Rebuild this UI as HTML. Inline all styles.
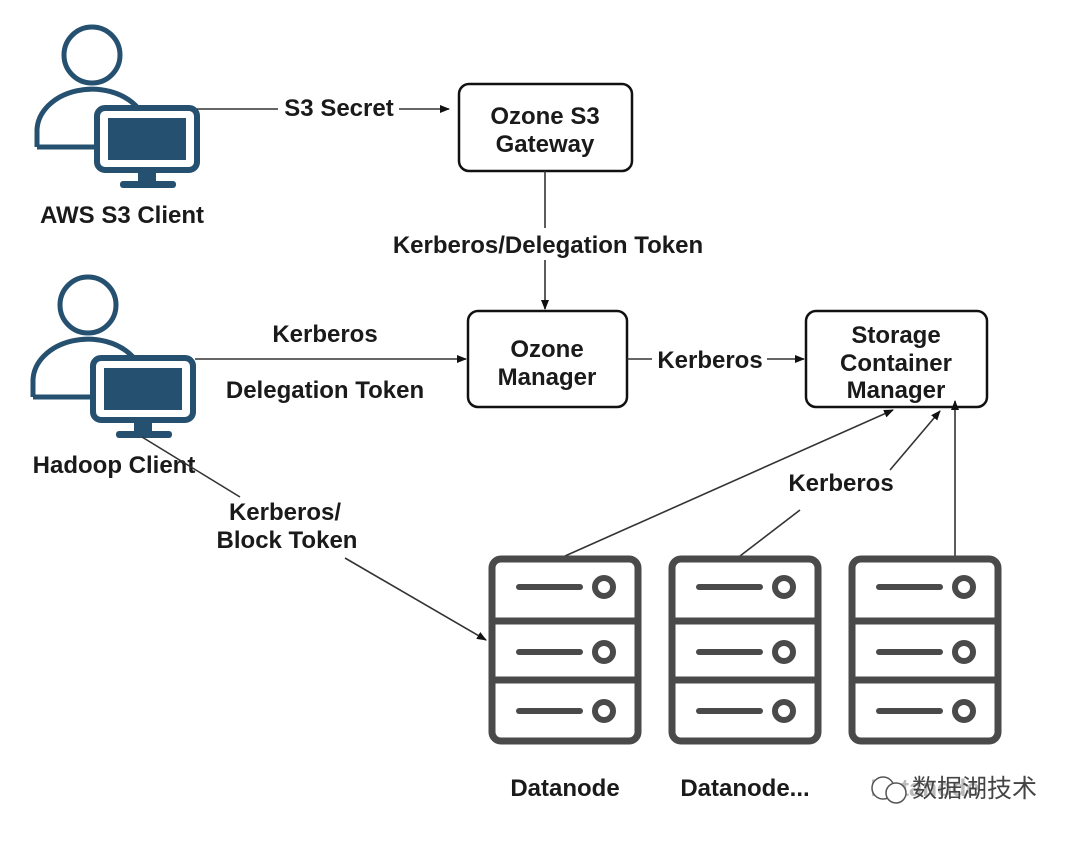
<!DOCTYPE html>
<html><head><meta charset="utf-8"><style>
body{margin:0;background:#fff;width:1079px;height:836px;overflow:hidden}
svg text{font-family:"Liberation Sans","Noto Sans CJK SC",sans-serif;font-weight:bold;fill:#1a1a1a;font-size:24px}
</style></head><body>
<svg width="1079" height="836" viewBox="0 0 1079 836" xmlns="http://www.w3.org/2000/svg">
<defs>
<marker id="a" markerWidth="10" markerHeight="10" refX="9" refY="5" orient="auto" markerUnits="userSpaceOnUse"><path d="M0,1 L10,5 L0,9 z" fill="#111"/></marker>
<g id="person">
<circle cx="0" cy="0" r="28" fill="none" stroke="#25506f" stroke-width="5"/>
<path d="M-55,92 L-55,75 A55,42 0 0 1 45,52" fill="none" stroke="#25506f" stroke-width="5"/>
<path d="M-55,92 L5,92" stroke="#25506f" stroke-width="5"/>
<rect x="5" y="53" width="100" height="62" rx="8" fill="#fff" stroke="#25506f" stroke-width="6"/>
<rect x="16" y="63" width="78" height="42" fill="#25506f"/>
<rect x="46" y="115" width="18" height="14" fill="#25506f"/>
<rect x="28" y="126" width="56" height="7" rx="3" fill="#25506f"/>
</g>
<g id="srv">
<rect x="0" y="0" width="146" height="182" rx="9" fill="#fff" stroke="#4a4a4a" stroke-width="7"/>
<line x1="0" y1="62" x2="146" y2="62" stroke="#4a4a4a" stroke-width="7"/>
<line x1="0" y1="121" x2="146" y2="121" stroke="#4a4a4a" stroke-width="7"/>
<g stroke="#4a4a4a" stroke-width="6" stroke-linecap="round" fill="none">
<line x1="27" y1="28" x2="88" y2="28"/><circle cx="112" cy="28" r="9"/>
<line x1="27" y1="93" x2="88" y2="93"/><circle cx="112" cy="93" r="9"/>
<line x1="27" y1="152" x2="88" y2="152"/><circle cx="112" cy="152" r="9"/>
</g>
</g>
</defs>

<use href="#person" x="92" y="55"/>
<use href="#person" x="88" y="305"/>
<text x="122" y="223" text-anchor="middle">AWS S3 Client</text>
<text x="114" y="473" text-anchor="middle">Hadoop Client</text>

<rect x="459" y="84" width="173" height="87" rx="10" fill="#fff" stroke="#111" stroke-width="2.5"/>
<text x="545" y="124" text-anchor="middle">Ozone S3</text>
<text x="545" y="152" text-anchor="middle">Gateway</text>
<rect x="468" y="311" width="159" height="96" rx="10" fill="#fff" stroke="#111" stroke-width="2.5"/>
<text x="547" y="357" text-anchor="middle">Ozone</text>
<text x="547" y="385" text-anchor="middle">Manager</text>
<rect x="806" y="311" width="181" height="96" rx="10" fill="#fff" stroke="#111" stroke-width="2.5"/>
<text x="896" y="343" text-anchor="middle">Storage</text>
<text x="896" y="371" text-anchor="middle">Container</text>
<text x="896" y="398" text-anchor="middle">Manager</text>

<g stroke="#333" stroke-width="1.6" fill="none">
<line x1="197" y1="109" x2="278" y2="109"/>
<line x1="399" y1="109" x2="449" y2="109" marker-end="url(#a)"/>
<line x1="545" y1="171" x2="545" y2="228"/>
<line x1="545" y1="260" x2="545" y2="309" marker-end="url(#a)"/>
<line x1="195" y1="359" x2="466" y2="359" marker-end="url(#a)"/>
<line x1="627" y1="359" x2="652" y2="359"/>
<line x1="767" y1="359" x2="804" y2="359" marker-end="url(#a)"/>
<line x1="142" y1="437" x2="240" y2="497"/>
<line x1="345" y1="558" x2="486" y2="640" marker-end="url(#a)"/>
<line x1="565" y1="556" x2="893" y2="410" marker-end="url(#a)"/>
<line x1="740" y1="556" x2="800" y2="510"/>
<line x1="890" y1="470" x2="940" y2="411" marker-end="url(#a)"/>
<line x1="955" y1="556" x2="955" y2="401" marker-end="url(#a)"/>
</g>

<text x="339" y="116" text-anchor="middle">S3 Secret</text>
<text x="548" y="253" text-anchor="middle">Kerberos/Delegation Token</text>
<text x="325" y="342" text-anchor="middle">Kerberos</text>
<text x="325" y="398" text-anchor="middle">Delegation Token</text>
<text x="710" y="368" text-anchor="middle">Kerberos</text>
<text x="841" y="491" text-anchor="middle">Kerberos</text>
<text x="285" y="520" text-anchor="middle">Kerberos/</text>
<text x="287" y="548" text-anchor="middle">Block Token</text>

<use href="#srv" x="492" y="559"/>
<use href="#srv" x="672" y="559"/>
<use href="#srv" x="852" y="559"/>

<text x="565" y="796" text-anchor="middle">Datanode</text>
<text x="745" y="796" text-anchor="middle">Datanode...</text>
<text x="925" y="796" text-anchor="middle" style="fill:#bbb">Datanode</text>
<circle cx="883" cy="788" r="11" fill="#fff" stroke="#555" stroke-width="1.5"/>
<circle cx="896" cy="793" r="10" fill="#fff" stroke="#555" stroke-width="1.5"/>
<text x="912" y="797" style="font-weight:normal;fill:#444;font-size:25px">数据湖技术</text>
</svg>
</body></html>
